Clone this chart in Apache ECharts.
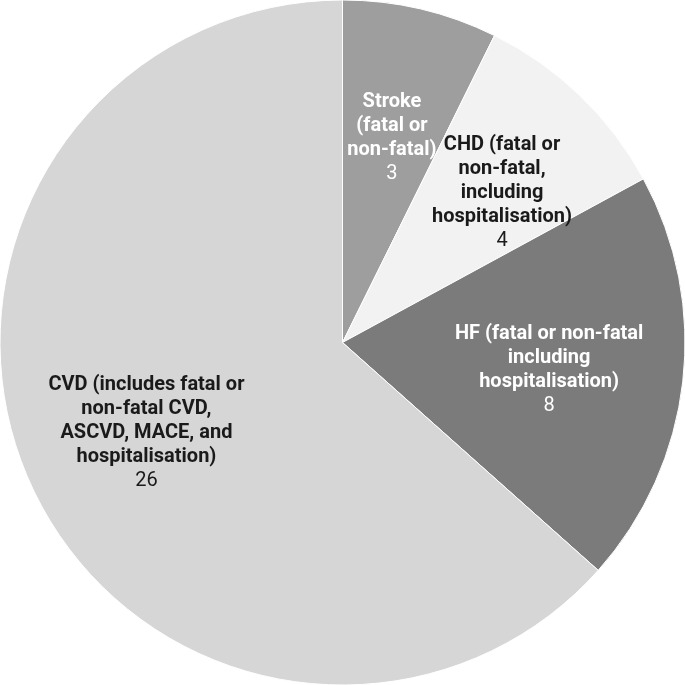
<!DOCTYPE html>
<html>
<head>
<meta charset="utf-8">
<script src="https://cdn.jsdelivr.net/npm/echarts@6/dist/echarts.min.js"></script>
<style>html,body{margin:0;padding:0;background:#fff;}#c{width:685px;height:685px;}</style>
</head>
<body>
<div id="c"></div>
<script>
const categories = [
  "Stroke\n(fatal or\nnon-fatal)",
  "CHD (fatal or\nnon-fatal,\nincluding\nhospitalisation)",
  "HF (fatal or non-fatal\nincluding\nhospitalisation)",
  "CVD (includes fatal or\nnon-fatal CVD,\nASCVD, MACE, and\nhospitalisation)"
];
const values = [3, 4, 8, 26];
const sliceColors = ["#9e9e9e", "#f2f2f2", "#7b7b7b", "#d6d6d6"];
const textColors = ["#ffffff", "#1a1a1a", "#ffffff", "#1a1a1a"];
const labelOffsets = [[0, 7], [9, 7], [-9, 3], [2, 2]];

const chart = echarts.init(document.getElementById('c'), null, {renderer: 'canvas'});
const rich = {};
textColors.forEach((col, i) => {
  rich['n' + i] = {fontFamily: 'Roboto', fontWeight: 'bold', fontSize: 20, lineHeight: 24, color: col, align: 'center'};
  rich['v' + i] = {fontFamily: 'Roboto', fontWeight: 'normal', fontSize: 20, lineHeight: 24, color: col, align: 'center'};
});
const fillData = categories.map((c, i) => ({
  name: c, value: values[i],
  itemStyle: {color: sliceColors[i], borderColor: '#ffffff', borderWidth: 1}
}));
const labelData = categories.map((c, i) => ({
  name: c, value: values[i],
  itemStyle: {color: 'rgba(0,0,0,0)'},
  label: {offset: labelOffsets[i]}
}));
chart.setOption({
  animation: false,
  backgroundColor: '#ffffff',
  series: [
    {
      type: 'pie', center: ['50%', '50%'], radius: ['0%', '100%'],
      startAngle: 90, clockwise: true, silent: true,
      label: {show: false}, labelLine: {show: false},
      data: fillData
    },
    {
      type: 'pie', center: ['50%', '50%'], radius: ['25%', '100%'],
      startAngle: 90, clockwise: true, silent: true,
      avoidLabelOverlap: false,
      labelLayout: {hideOverlap: false},
      labelLine: {show: false},
      label: {
        show: true, position: 'inside', align: 'center',
        fontFamily: 'Roboto', fontSize: 20, lineHeight: 24,
        rich: rich,
        formatter: p => p.name.split('\n').map(s => '{n' + p.dataIndex + '|' + s + '}').join('\n') + '\n{v' + p.dataIndex + '|' + p.value + '}'
      },
      data: labelData
    }
  ]
});
</script>
</body>
</html>
